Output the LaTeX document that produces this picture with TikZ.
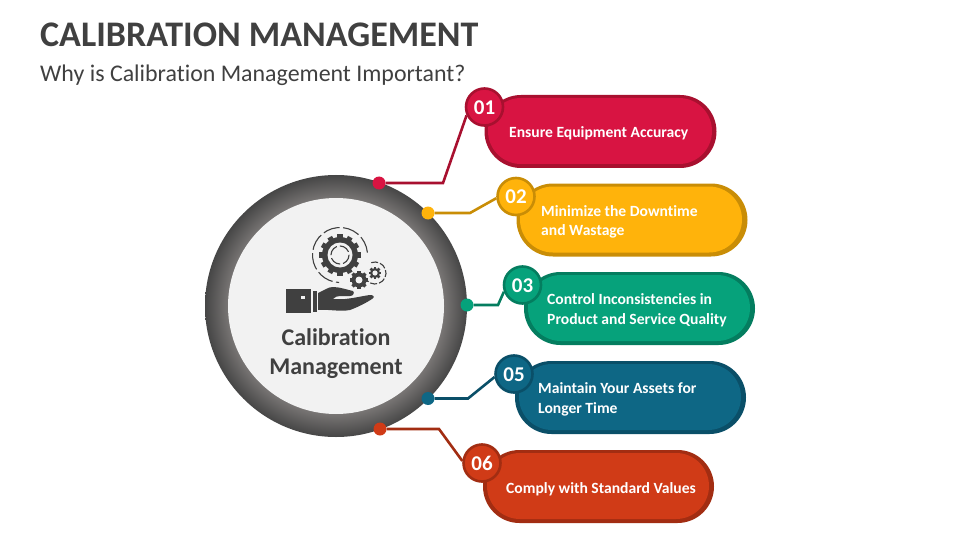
\documentclass[tikz,border=0pt]{standalone}
\usepackage{fontspec}
\setmainfont[Ligatures=NoCommon]{Carlito}
\usetikzlibrary{shapes.misc}
\definecolor{inkgrey}{HTML}{404040}
\definecolor{ringinner}{HTML}{787574}
\definecolor{ringouter}{HTML}{464646}
\definecolor{redmain}{HTML}{D81442}
\definecolor{reddark}{HTML}{A8102F}
\definecolor{ambermain}{HTML}{FFB30B}
\definecolor{amberdark}{HTML}{C98D06}
\definecolor{greenmain}{HTML}{06A27B}
\definecolor{greendark}{HTML}{047D5F}
\definecolor{bluemain}{HTML}{0E6785}
\definecolor{bluedark}{HTML}{0A4F68}
\definecolor{rustmain}{HTML}{D03B17}
\definecolor{rustdark}{HTML}{A22D12}
\pgfdeclareradialshading{ringshade}{\pgfpoint{0bp}{0bp}}{color(0bp)=(ringinner);color(20.6bp)=(ringinner);color(25bp)=(ringouter);color(50bp)=(ringouter)}
\tikzset{
	pillback/.style={rounded rectangle,draw=none,fill=#1,minimum height=73pt,inner sep=0pt},
	pillfront/.style={rounded rectangle,draw=none,fill=#1,minimum height=66pt,inner sep=0pt},
	numbadge/.style n args={2}{circle,fill=#1,draw=#2,line width=2.6pt,minimum size=37pt,inner sep=0pt,text=white,text height=15pt,text depth=0pt,font=\fontsize{21}{21}\selectfont\bfseries},
	pindot/.style={circle,fill=#1,minimum size=13pt,inner sep=0pt},
	wire/.style={draw=#1,line width=2.6pt},
	pilltext/.style={anchor=west,align=left,text=white,inner sep=0pt,font=\fontsize{15.6}{19.5}\selectfont\bfseries},
	iconline/.style={draw=inkgrey,line width=1.1pt}
}
\newcommand{\geartooth}[5]{% x, y, radius, tooth length, tooth count
	\fill[inkgrey] (#1,#2) circle (#3);
	\foreach \toothang in {1,...,#5}
		\fill[inkgrey,shift={(#1,#2)},rotate=\toothang*360/#5] (#3-1,-#4) rectangle (#3+#4,#4);
}
\begin{document}
\begin{tikzpicture}[x=1pt,y=-1pt]
	\useasboundingbox (0,0) rectangle (960,540);
	% heading
	\node[anchor=west,inner sep=0pt,text=inkgrey,font=\fontsize{36}{36}\selectfont\bfseries] (title) at (40,35) {CALIBRATION MANAGEMENT};
	\node[anchor=west,inner sep=0pt,text=inkgrey,font=\fontsize{23.9}{24}\selectfont] (subtitle) at (40,75) {Why is Calibration Management Important?};
	% hub
	\shade[shading=ringshade] (336,306) circle (131);
	\node[circle,fill=black!5,minimum size=216pt,inner sep=0pt] (hub) at (336,306) {};
	\node[align=center,inner sep=0pt,text=inkgrey,font=\fontsize{24}{29}\selectfont\bfseries] (hublabel) at (336,354) {Calibration\\Management};
	% gears
	\geartooth{340}{255}{18}{2.6}{12}
	\geartooth{359}{280}{7.5}{1.6}{8}
	\fill[black!5] (340,255) circle (12.5) (359,280) circle (3.5);
	\draw[iconline,dash pattern=on 11pt off 3pt] (340,255) circle (9);
	\draw[iconline,dash pattern=on 17pt off 3.5pt] (340,255) ++(-5:27.5) arc (-5:-268:27.5);
	\geartooth{375}{273}{5}{1.3}{8}
	\fill[black!5] (375,273) circle (2.6);
	\draw[iconline,dash pattern=on 7pt off 2pt] (375,273) ++(-110:11) arc (-110:160:11);
	% hand
	\fill[inkgrey] (286,289) rectangle (311,313);
	\fill[inkgrey] (312.5,291) rectangle (317,312);
	\fill[black!5] (301,296) rectangle (305,299);
	\fill[inkgrey] (318,293) .. controls (325,290) and (328,287) .. (333,287) .. controls (340,287) and (348,290) .. (353,291) .. controls (355,293) and (353,296) .. (350,296) -- (340,296) .. controls (337,296) and (335,297) .. (333,299) -- (345,299) .. controls (355,298) and (362,296) .. (370,295) .. controls (374,295) and (375,297) .. (372,299) .. controls (366,303) and (358,307) .. (350,310) .. controls (340,312) and (328,309) .. (318,310) -- cycle;
	% item 01
	\node[pillback=reddark,minimum width=232pt] (back01) at (600.5,131.5) {};
	\node[pillfront=redmain,minimum width=224pt] (front01) at (600,131) {};
	\node[numbadge={redmain}{reddark}] (num01) at (484.5,107) {01};
	\node[pindot=redmain] (dot01) at (379,183) {};
	\coordinate (bend01) at (443,183);
	\draw[wire=reddark] (dot01) -- (bend01) -- (num01.205);
	\node[pilltext] (txt01) at (509,133) {Ensure Equipment Accuracy};
	% item 02
	\node[pillback=amberdark,minimum width=231pt] (back02) at (632,220) {};
	\node[pillfront=ambermain,minimum width=222pt] (front02) at (631,219.5) {};
	\node[numbadge={ambermain}{amberdark}] (num02) at (516,196.5) {02};
	\node[pindot=ambermain] (dot02) at (428,213) {};
	\coordinate (bend02) at (470,213);
	\draw[wire=amberdark] (dot02) -- (bend02) -- (num02.185);
	\node[pilltext] (txt02) at (541,222) {Minimize the Downtime\\and Wastage};
	% item 03
	\node[pillback=greendark,minimum width=231pt] (back03) at (639.5,308.5) {};
	\node[pillfront=greenmain,minimum width=222pt] (front03) at (639,308) {};
	\node[numbadge={greenmain}{greendark}] (num03) at (522.5,285) {03};
	\node[pindot=greenmain] (dot03) at (467,305) {};
	\coordinate (bend03) at (498,305);
	\draw[wire=greendark] (dot03) -- (bend03) -- (num03.200);
	\node[pilltext] (txt03) at (547,310.5) {Control Inconsistencies in\\Product and Service Quality};
	% item 05
	\node[pillback=bluedark,minimum width=231pt] (back05) at (630.5,397.5) {};
	\node[pillfront=bluemain,minimum width=222pt] (front05) at (630,397) {};
	\node[numbadge={bluemain}{bluedark}] (num05) at (514,374) {05};
	\node[pindot=bluemain] (dot05) at (428,398.5) {};
	\coordinate (bend05) at (468,398.5);
	\draw[wire=bluedark] (dot05) -- (bend05) -- (num05.189);
	\node[pilltext] (txt05) at (538,399.5) {Maintain Your Assets for\\Longer Time};
	% item 06
	\node[pillback=rustdark,minimum width=231pt] (back06) at (598.5,486.5) {};
	\node[pillfront=rustmain,minimum width=222pt] (front06) at (598,486) {};
	\node[numbadge={rustmain}{rustdark}] (num06) at (482,463) {06};
	\node[pindot=rustmain] (dot06) at (380,429) {};
	\coordinate (bend06) at (439,429);
	\draw[wire=rustdark] (dot06) -- (bend06) -- (num06.174);
	\node[pilltext] (txt06) at (506,489) {Comply with Standard Values};
\end{tikzpicture}
\end{document}
